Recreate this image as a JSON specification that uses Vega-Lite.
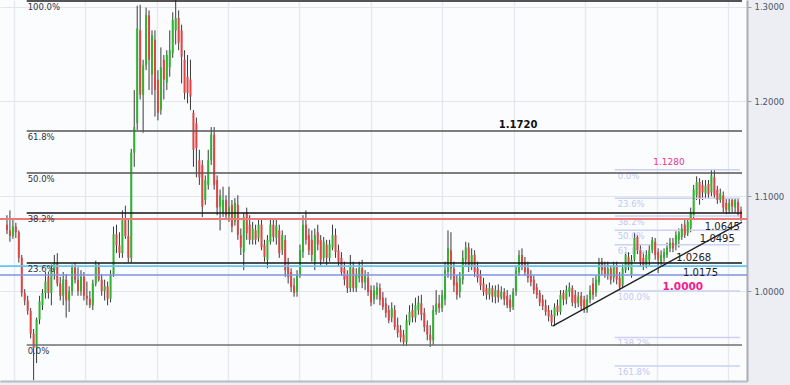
{
"$schema":"https://vega.github.io/schema/vega-lite/v6.json",
"width":747,"height":381,
"autosize":{"type":"none"},
"padding":{"left":0,"top":0,"right":43,"bottom":4},
"background":"#eceef4",
"view":{"fill":"#fbfcfe","stroke":null},
"config":{"font":"DejaVu Sans",
"axisX":{"title":null,"labels":false,"ticks":false,"domain":true,"domainColor":"#b8bac6","domainWidth":2,"grid":true,"gridColor":"#e7e9f0","gridWidth":1.5},
"axisY":{"title":null,"grid":true,"gridColor":"#e3e5ed","gridWidth":1,"domainColor":"#a9abb6","domainWidth":2,"tickColor":"#9a9caa","tickSize":4,"labelPadding":3,"labelFont":"DejaVu Sans","labelFontSize":8.5,"labelColor":"#4b5468"}},
"resolve":{"scale":{"color":"independent","strokeWidth":"independent"}},
"datasets":{
"candles":[
{"i":0,"o":1.070,"h":1.080,"l":1.060,"c":1.064},
{"i":1,"o":1.064,"h":1.085,"l":1.052,"c":1.058},
{"i":2,"o":1.058,"h":1.075,"l":1.055,"c":1.068},
{"i":3,"o":1.068,"h":1.072,"l":1.056,"c":1.062},
{"i":4,"o":1.062,"h":1.064,"l":1.030,"c":1.035},
{"i":5,"o":1.035,"h":1.038,"l":0.994,"c":0.998},
{"i":6,"o":0.998,"h":1.002,"l":0.985,"c":0.990},
{"i":7,"o":0.990,"h":0.995,"l":0.975,"c":0.979},
{"i":8,"o":0.979,"h":0.982,"l":0.950,"c":0.955},
{"i":9,"o":0.955,"h":0.960,"l":0.906,"c":0.940},
{"i":10,"o":0.940,"h":0.972,"l":0.924,"c":0.970},
{"i":11,"o":0.970,"h":0.995,"l":0.965,"c":0.989},
{"i":12,"o":0.985,"h":1.002,"l":0.980,"c":0.998},
{"i":13,"o":0.998,"h":1.020,"l":0.992,"c":1.010},
{"i":14,"o":1.015,"h":1.020,"l":0.992,"c":0.998},
{"i":15,"o":0.998,"h":1.028,"l":0.985,"c":1.022},
{"i":16,"o":1.022,"h":1.038,"l":1.012,"c":1.030},
{"i":17,"o":1.030,"h":1.040,"l":1.005,"c":1.008},
{"i":18,"o":1.008,"h":1.015,"l":0.990,"c":0.995},
{"i":19,"o":0.995,"h":1.020,"l":0.985,"c":1.012},
{"i":20,"o":1.012,"h":1.018,"l":0.972,"c":0.990},
{"i":21,"o":0.990,"h":1.005,"l":0.978,"c":1.000},
{"i":22,"o":1.000,"h":1.028,"l":0.995,"c":1.025},
{"i":23,"o":1.025,"h":1.030,"l":1.008,"c":1.012},
{"i":24,"o":1.012,"h":1.025,"l":0.995,"c":1.000},
{"i":25,"o":1.000,"h":1.022,"l":0.995,"c":1.015},
{"i":26,"o":1.015,"h":1.020,"l":0.990,"c":0.995},
{"i":27,"o":0.995,"h":1.010,"l":0.985,"c":0.992},
{"i":28,"o":0.992,"h":1.000,"l":0.982,"c":0.985},
{"i":29,"o":0.985,"h":1.012,"l":0.980,"c":1.008},
{"i":30,"o":1.008,"h":1.032,"l":1.005,"c":1.028},
{"i":31,"o":1.028,"h":1.030,"l":1.010,"c":1.012},
{"i":32,"o":1.012,"h":1.018,"l":0.995,"c":1.000},
{"i":33,"o":1.000,"h":1.012,"l":0.990,"c":1.005},
{"i":34,"o":1.005,"h":1.010,"l":0.985,"c":0.992},
{"i":35,"o":0.992,"h":1.022,"l":0.988,"c":1.018},
{"i":36,"o":1.018,"h":1.068,"l":1.015,"c":1.060},
{"i":37,"o":1.060,"h":1.070,"l":1.040,"c":1.048},
{"i":38,"o":1.048,"h":1.062,"l":1.035,"c":1.040},
{"i":39,"o":1.040,"h":1.085,"l":1.035,"c":1.075},
{"i":40,"o":1.075,"h":1.090,"l":1.055,"c":1.058},
{"i":41,"o":1.058,"h":1.075,"l":1.030,"c":1.035},
{"i":42,"o":1.035,"h":1.150,"l":1.030,"c":1.146},
{"i":43,"o":1.146,"h":1.212,"l":1.131,"c":1.173},
{"i":44,"o":1.177,"h":1.301,"l":1.170,"c":1.277},
{"i":45,"o":1.275,"h":1.302,"l":1.202,"c":1.207},
{"i":46,"o":1.207,"h":1.244,"l":1.167,"c":1.238},
{"i":47,"o":1.238,"h":1.299,"l":1.233,"c":1.291},
{"i":48,"o":1.291,"h":1.296,"l":1.212,"c":1.244},
{"i":49,"o":1.228,"h":1.275,"l":1.207,"c":1.270},
{"i":50,"o":1.265,"h":1.275,"l":1.184,"c":1.212},
{"i":51,"o":1.223,"h":1.233,"l":1.180,"c":1.188},
{"i":52,"o":1.191,"h":1.257,"l":1.186,"c":1.236},
{"i":53,"o":1.244,"h":1.249,"l":1.202,"c":1.223},
{"i":54,"o":1.220,"h":1.254,"l":1.212,"c":1.249},
{"i":55,"o":1.236,"h":1.275,"l":1.226,"c":1.254},
{"i":56,"o":1.251,"h":1.294,"l":1.246,"c":1.286},
{"i":57,"o":1.275,"h":1.307,"l":1.260,"c":1.288},
{"i":58,"o":1.288,"h":1.296,"l":1.254,"c":1.262},
{"i":59,"o":1.275,"h":1.281,"l":1.219,"c":1.247},
{"i":60,"o":1.244,"h":1.254,"l":1.202,"c":1.209},
{"i":61,"o":1.226,"h":1.249,"l":1.198,"c":1.209},
{"i":62,"o":1.223,"h":1.244,"l":1.191,"c":1.205},
{"i":63,"o":1.188,"h":1.191,"l":1.131,"c":1.149},
{"i":64,"o":1.177,"h":1.183,"l":1.120,"c":1.151},
{"i":65,"o":1.138,"h":1.149,"l":1.112,"c":1.120},
{"i":66,"o":1.133,"h":1.138,"l":1.078,"c":1.089},
{"i":67,"o":1.096,"h":1.122,"l":1.091,"c":1.117},
{"i":68,"o":1.112,"h":1.149,"l":1.107,"c":1.138},
{"i":69,"o":1.138,"h":1.173,"l":1.133,"c":1.165},
{"i":70,"o":1.165,"h":1.173,"l":1.107,"c":1.112},
{"i":71,"o":1.117,"h":1.122,"l":1.080,"c":1.088},
{"i":72,"o":1.089,"h":1.107,"l":1.064,"c":1.101},
{"i":73,"o":1.082,"h":1.110,"l":1.078,"c":1.096},
{"i":74,"o":1.096,"h":1.101,"l":1.075,"c":1.080},
{"i":75,"o":1.080,"h":1.110,"l":1.073,"c":1.089},
{"i":76,"o":1.091,"h":1.096,"l":1.062,"c":1.068},
{"i":77,"o":1.073,"h":1.098,"l":1.069,"c":1.093},
{"i":78,"o":1.091,"h":1.101,"l":1.054,"c":1.059},
{"i":79,"o":1.059,"h":1.066,"l":1.038,"c":1.046},
{"i":80,"o":1.041,"h":1.083,"l":1.022,"c":1.078},
{"i":81,"o":1.083,"h":1.088,"l":1.054,"c":1.061},
{"i":82,"o":1.070,"h":1.080,"l":1.049,"c":1.054},
{"i":83,"o":1.054,"h":1.073,"l":1.049,"c":1.066},
{"i":84,"o":1.064,"h":1.070,"l":1.049,"c":1.054},
{"i":85,"o":1.056,"h":1.075,"l":1.052,"c":1.070},
{"i":86,"o":1.070,"h":1.075,"l":1.043,"c":1.046},
{"i":87,"o":1.049,"h":1.054,"l":1.031,"c":1.036},
{"i":88,"o":1.033,"h":1.059,"l":1.024,"c":1.054},
{"i":89,"o":1.052,"h":1.075,"l":1.049,"c":1.070},
{"i":90,"o":1.070,"h":1.077,"l":1.052,"c":1.057},
{"i":91,"o":1.056,"h":1.077,"l":1.049,"c":1.069},
{"i":92,"o":1.064,"h":1.070,"l":1.035,"c":1.040},
{"i":93,"o":1.043,"h":1.064,"l":1.038,"c":1.059},
{"i":94,"o":1.054,"h":1.059,"l":1.015,"c":1.022},
{"i":95,"o":1.027,"h":1.035,"l":1.008,"c":1.015},
{"i":96,"o":1.020,"h":1.024,"l":0.999,"c":1.004},
{"i":97,"o":1.006,"h":1.014,"l":0.994,"c":0.998},
{"i":98,"o":0.999,"h":1.022,"l":0.994,"c":1.017},
{"i":99,"o":1.017,"h":1.049,"l":1.014,"c":1.043},
{"i":100,"o":1.041,"h":1.080,"l":1.035,"c":1.070},
{"i":101,"o":1.070,"h":1.085,"l":1.049,"c":1.054},
{"i":102,"o":1.059,"h":1.066,"l":1.038,"c":1.043},
{"i":103,"o":1.054,"h":1.064,"l":1.031,"c":1.038},
{"i":104,"o":1.031,"h":1.066,"l":1.022,"c":1.059},
{"i":105,"o":1.062,"h":1.070,"l":1.043,"c":1.049},
{"i":106,"o":1.054,"h":1.059,"l":1.027,"c":1.033},
{"i":107,"o":1.035,"h":1.057,"l":1.031,"c":1.052},
{"i":108,"o":1.049,"h":1.054,"l":1.027,"c":1.035},
{"i":109,"o":1.035,"h":1.054,"l":1.031,"c":1.049},
{"i":110,"o":1.046,"h":1.070,"l":1.043,"c":1.059},
{"i":111,"o":1.059,"h":1.066,"l":1.035,"c":1.041},
{"i":112,"o":1.043,"h":1.049,"l":1.026,"c":1.031},
{"i":113,"o":1.035,"h":1.041,"l":1.016,"c":1.020},
{"i":114,"o":1.024,"h":1.031,"l":1.006,"c":1.012},
{"i":115,"o":1.017,"h":1.022,"l":0.998,"c":1.003},
{"i":116,"o":1.003,"h":1.038,"l":0.999,"c":1.027},
{"i":117,"o":1.024,"h":1.031,"l":0.999,"c":1.003},
{"i":118,"o":1.003,"h":1.024,"l":0.999,"c":1.017},
{"i":119,"o":1.014,"h":1.031,"l":1.009,"c":1.024},
{"i":120,"o":1.024,"h":1.033,"l":1.003,"c":1.009},
{"i":121,"o":1.009,"h":1.022,"l":1.001,"c":1.017},
{"i":122,"o":1.014,"h":1.020,"l":0.995,"c":0.999},
{"i":123,"o":1.001,"h":1.006,"l":0.984,"c":0.988},
{"i":124,"o":0.991,"h":1.006,"l":0.986,"c":1.001},
{"i":125,"o":0.996,"h":1.009,"l":0.991,"c":1.004},
{"i":126,"o":1.003,"h":1.008,"l":0.985,"c":0.991},
{"i":127,"o":0.993,"h":0.999,"l":0.980,"c":0.983},
{"i":128,"o":0.987,"h":0.993,"l":0.972,"c":0.977},
{"i":129,"o":0.980,"h":0.985,"l":0.966,"c":0.969},
{"i":130,"o":0.972,"h":0.988,"l":0.967,"c":0.982},
{"i":131,"o":0.980,"h":0.985,"l":0.959,"c":0.962},
{"i":132,"o":0.964,"h":0.972,"l":0.951,"c":0.956},
{"i":133,"o":0.959,"h":0.964,"l":0.946,"c":0.951},
{"i":134,"o":0.954,"h":0.959,"l":0.942,"c":0.946},
{"i":135,"o":0.946,"h":0.975,"l":0.942,"c":0.969},
{"i":136,"o":0.967,"h":0.985,"l":0.964,"c":0.978},
{"i":137,"o":0.980,"h":0.987,"l":0.967,"c":0.972},
{"i":138,"o":0.972,"h":0.993,"l":0.967,"c":0.985},
{"i":139,"o":0.980,"h":0.995,"l":0.975,"c":0.988},
{"i":140,"o":0.987,"h":0.996,"l":0.969,"c":0.975},
{"i":141,"o":0.977,"h":0.982,"l":0.957,"c":0.962},
{"i":142,"o":0.964,"h":0.969,"l":0.948,"c":0.954},
{"i":143,"o":0.954,"h":0.964,"l":0.941,"c":0.948},
{"i":144,"o":0.948,"h":0.985,"l":0.943,"c":0.980},
{"i":145,"o":0.978,"h":1.001,"l":0.975,"c":0.987},
{"i":146,"o":0.987,"h":0.996,"l":0.977,"c":0.982},
{"i":147,"o":0.982,"h":1.001,"l":0.978,"c":0.996},
{"i":148,"o":0.991,"h":1.031,"l":0.985,"c":1.022},
{"i":149,"o":1.020,"h":1.064,"l":1.014,"c":1.045},
{"i":150,"o":1.043,"h":1.062,"l":1.012,"c":1.024},
{"i":151,"o":1.024,"h":1.031,"l":0.999,"c":1.006},
{"i":152,"o":1.009,"h":1.017,"l":0.991,"c":0.996},
{"i":153,"o":0.999,"h":1.020,"l":0.993,"c":1.014},
{"i":154,"o":1.012,"h":1.043,"l":1.007,"c":1.035},
{"i":155,"o":1.033,"h":1.052,"l":1.027,"c":1.046},
{"i":156,"o":1.046,"h":1.051,"l":1.020,"c":1.027},
{"i":157,"o":1.027,"h":1.045,"l":1.022,"c":1.038},
{"i":158,"o":1.038,"h":1.043,"l":1.015,"c":1.020},
{"i":159,"o":1.024,"h":1.031,"l":1.009,"c":1.014},
{"i":160,"o":1.017,"h":1.022,"l":1.001,"c":1.006},
{"i":161,"o":1.008,"h":1.014,"l":0.995,"c":0.999},
{"i":162,"o":1.003,"h":1.007,"l":0.991,"c":0.996},
{"i":163,"o":0.996,"h":1.009,"l":0.991,"c":1.003},
{"i":164,"o":1.003,"h":1.006,"l":0.988,"c":0.994},
{"i":165,"o":0.994,"h":1.006,"l":0.987,"c":1.001},
{"i":166,"o":1.001,"h":1.007,"l":0.988,"c":0.993},
{"i":167,"o":0.993,"h":1.005,"l":0.991,"c":0.999},
{"i":168,"o":0.999,"h":1.003,"l":0.985,"c":0.991},
{"i":169,"o":0.995,"h":1.001,"l":0.982,"c":0.985},
{"i":170,"o":0.991,"h":0.996,"l":0.978,"c":0.982},
{"i":171,"o":0.983,"h":1.003,"l":0.980,"c":0.999},
{"i":172,"o":0.999,"h":1.027,"l":0.995,"c":1.022},
{"i":173,"o":1.020,"h":1.043,"l":1.016,"c":1.038},
{"i":174,"o":1.038,"h":1.045,"l":1.022,"c":1.027},
{"i":175,"o":1.031,"h":1.036,"l":1.016,"c":1.020},
{"i":176,"o":1.024,"h":1.031,"l":1.009,"c":1.014},
{"i":177,"o":1.017,"h":1.022,"l":1.005,"c":1.009},
{"i":178,"o":1.012,"h":1.016,"l":0.997,"c":1.001},
{"i":179,"o":1.004,"h":1.008,"l":0.992,"c":0.996},
{"i":180,"o":0.998,"h":1.001,"l":0.984,"c":0.988},
{"i":181,"o":0.991,"h":0.996,"l":0.980,"c":0.984},
{"i":182,"o":0.985,"h":0.991,"l":0.974,"c":0.978},
{"i":183,"o":0.980,"h":0.985,"l":0.968,"c":0.973},
{"i":184,"o":0.975,"h":0.980,"l":0.963,"c":0.967},
{"i":185,"o":0.973,"h":0.987,"l":0.963,"c":0.983},
{"i":186,"o":0.985,"h":0.991,"l":0.974,"c":0.978},
{"i":187,"o":0.978,"h":1.001,"l":0.975,"c":0.996},
{"i":188,"o":0.998,"h":1.001,"l":0.985,"c":0.991},
{"i":189,"o":0.991,"h":1.006,"l":0.986,"c":1.001},
{"i":190,"o":0.999,"h":1.009,"l":0.994,"c":1.004},
{"i":191,"o":1.003,"h":1.006,"l":0.984,"c":0.988},
{"i":192,"o":0.996,"h":1.001,"l":0.982,"c":0.987},
{"i":193,"o":0.987,"h":0.999,"l":0.983,"c":0.994},
{"i":194,"o":0.995,"h":0.999,"l":0.980,"c":0.984},
{"i":195,"o":0.991,"h":0.995,"l":0.977,"c":0.980},
{"i":196,"o":0.980,"h":0.996,"l":0.977,"c":0.991},
{"i":197,"o":0.991,"h":1.006,"l":0.987,"c":1.001},
{"i":198,"o":1.008,"h":1.014,"l":0.991,"c":0.996},
{"i":199,"o":0.998,"h":1.016,"l":0.994,"c":1.012},
{"i":200,"o":1.009,"h":1.035,"l":1.006,"c":1.030},
{"i":201,"o":1.031,"h":1.035,"l":1.017,"c":1.022},
{"i":202,"o":1.025,"h":1.031,"l":1.014,"c":1.017},
{"i":203,"o":1.017,"h":1.031,"l":1.012,"c":1.024},
{"i":204,"o":1.024,"h":1.027,"l":1.007,"c":1.012},
{"i":205,"o":1.014,"h":1.031,"l":1.009,"c":1.027},
{"i":206,"o":1.027,"h":1.031,"l":1.007,"c":1.012},
{"i":207,"o":1.014,"h":1.020,"l":1.000,"c":1.004},
{"i":208,"o":1.006,"h":1.028,"l":1.003,"c":1.024},
{"i":209,"o":1.022,"h":1.041,"l":1.019,"c":1.038},
{"i":210,"o":1.036,"h":1.041,"l":1.022,"c":1.027},
{"i":211,"o":1.017,"h":1.038,"l":1.014,"c":1.033},
{"i":212,"o":1.033,"h":1.061,"l":1.031,"c":1.056},
{"i":213,"o":1.057,"h":1.059,"l":1.039,"c":1.043},
{"i":214,"o":1.043,"h":1.049,"l":1.026,"c":1.031},
{"i":215,"o":1.035,"h":1.041,"l":1.022,"c":1.027},
{"i":216,"o":1.027,"h":1.043,"l":1.024,"c":1.038},
{"i":217,"o":1.033,"h":1.049,"l":1.027,"c":1.043},
{"i":218,"o":1.043,"h":1.057,"l":1.040,"c":1.054},
{"i":219,"o":1.052,"h":1.056,"l":1.033,"c":1.038},
{"i":220,"o":1.041,"h":1.045,"l":1.019,"c":1.033},
{"i":221,"o":1.031,"h":1.043,"l":1.027,"c":1.038},
{"i":222,"o":1.035,"h":1.045,"l":1.031,"c":1.041},
{"i":223,"o":1.038,"h":1.051,"l":1.035,"c":1.046},
{"i":224,"o":1.045,"h":1.056,"l":1.041,"c":1.051},
{"i":225,"o":1.051,"h":1.056,"l":1.041,"c":1.045},
{"i":226,"o":1.048,"h":1.063,"l":1.043,"c":1.059},
{"i":227,"o":1.054,"h":1.066,"l":1.046,"c":1.062},
{"i":228,"o":1.057,"h":1.071,"l":1.054,"c":1.066},
{"i":229,"o":1.070,"h":1.075,"l":1.056,"c":1.059},
{"i":230,"o":1.061,"h":1.077,"l":1.058,"c":1.073},
{"i":231,"o":1.066,"h":1.088,"l":1.062,"c":1.083},
{"i":232,"o":1.080,"h":1.112,"l":1.077,"c":1.107},
{"i":233,"o":1.101,"h":1.121,"l":1.096,"c":1.115},
{"i":234,"o":1.115,"h":1.119,"l":1.091,"c":1.098},
{"i":235,"o":1.112,"h":1.117,"l":1.096,"c":1.104},
{"i":236,"o":1.103,"h":1.117,"l":1.098,"c":1.111},
{"i":237,"o":1.113,"h":1.117,"l":1.098,"c":1.102},
{"i":238,"o":1.104,"h":1.128,"l":1.100,"c":1.122},
{"i":239,"o":1.120,"h":1.128,"l":1.098,"c":1.101},
{"i":240,"o":1.107,"h":1.111,"l":1.092,"c":1.096},
{"i":241,"o":1.096,"h":1.108,"l":1.093,"c":1.103},
{"i":242,"o":1.101,"h":1.105,"l":1.083,"c":1.088},
{"i":243,"o":1.093,"h":1.097,"l":1.081,"c":1.085},
{"i":244,"o":1.085,"h":1.097,"l":1.082,"c":1.093},
{"i":245,"o":1.096,"h":1.098,"l":1.083,"c":1.089},
{"i":246,"o":1.088,"h":1.098,"l":1.083,"c":1.096},
{"i":247,"o":1.094,"h":1.097,"l":1.079,"c":1.083},
{"i":248,"o":1.085,"h":1.089,"l":1.074,"c":1.077}
],
"fibL":[
{"pct":"100.0%","v":1.306},
{"pct":"61.8%","v":1.1688},
{"pct":"50.0%","v":1.1245},
{"pct":"38.2%","v":1.0823},
{"pct":"23.6%","v":1.0295},
{"pct":"0.0%","v":0.943}
],
"fibR":[
{"pct":"0.0%","v":1.128},
{"pct":"23.6%","v":1.0978},
{"pct":"38.2%","v":1.0791},
{"pct":"50.0%","v":1.064},
{"pct":"61.8%","v":1.0489},
{"pct":"100.0%","v":1.0},
{"pct":"138.2%","v":0.9511},
{"pct":"161.8%","v":0.9209}
],
"hlines":[
{"name":"cyan","v":1.0264},
{"name":"blue","v":1.0169},
{"name":"red","v":1.0759}
],
"trend":[
{"i":184.33,"v":0.963},
{"i":248.33,"v":1.0728}
],
"notes":[
{"t":"1.1720","i":172.67,"v":1.1751,"k":"boldBlack"},
{"t":"1.1280","i":223.67,"v":1.136,"k":"pink"},
{"t":"1.0645","i":241.67,"v":1.0675,"k":"dark"},
{"t":"1.0495","i":240,"v":1.0549,"k":"dark"},
{"t":"1.0268","i":232,"v":1.0348,"k":"dark"},
{"t":"1.0175","i":234.33,"v":1.019,"k":"dark"},
{"t":"1.0000","i":228.33,"v":1.0042,"k":"boldMag"}
]
},
"layer":[
{
"data":{"name":"candles"},
"mark":{"type":"rule","color":"#3a3a3a","strokeWidth":1},
"encoding":{
"x":{"field":"i","type":"quantitative","scale":{"domain":[-0.667,248.333],"nice":false,"zero":false},
 "axis":{"orient":"bottom","values":[2.3,8.33,14.37,20.4,26.43,32.47,38.5,44.53,50.57,56.6,62.63,68.67,74.7,80.73,86.77,92.8,98.83,104.87,110.9,116.93,122.97,129,135.03,141.07,147.1,153.13,159.17,165.2,171.23,177.27,183.3,189.33,195.37,201.4,207.43,213.47,219.5,225.53,231.57,237.6,243.63]}},
"y":{"field":"l","type":"quantitative","scale":{"domain":[0.9051,1.307],"nice":false,"zero":false},
 "axis":{"orient":"right","values":[1.0,1.1,1.2,1.3],"format":".4f"}},
"y2":{"field":"h"}
}
},
{
"data":{"name":"fibR"},
"mark":{"type":"rule","color":"#cdd0f2","strokeWidth":1.5},
"encoding":{
"x":{"datum":205.33,"type":"quantitative"},
"x2":{"datum":247.67},
"y":{"field":"v","type":"quantitative"}
}
},
{
"data":{"name":"fibR"},
"mark":{"type":"text","align":"left","baseline":"top","dy":2,"fontSize":8.5,"color":"#c4c8f0","font":"DejaVu Sans"},
"encoding":{
"x":{"datum":206.33,"type":"quantitative"},
"y":{"field":"v","type":"quantitative"},
"text":{"field":"pct"}
}
},
{
"data":{"name":"candles"},
"mark":{"type":"bar","size":2},
"encoding":{
"x":{"field":"i","type":"quantitative"},
"y":{"field":"o","type":"quantitative"},
"y2":{"field":"c"},
"color":{"condition":{"test":"datum.c >= datum.o","value":"#2eb52e"},"value":"#e04545"}
}
},
{
"data":{"name":"hlines"},
"mark":{"type":"rule"},
"encoding":{
"y":{"field":"v","type":"quantitative"},
"color":{"field":"name","type":"nominal","scale":{"domain":["red","cyan","blue"],"range":["#f07878","#62c6f4","#7f95e2"]},"legend":null},
"strokeWidth":{"field":"name","type":"nominal","scale":{"domain":["red","cyan","blue"],"range":[2,1.5,1.5]},"legend":null}
}
},
{
"data":{"name":"fibL"},
"mark":{"type":"rule","strokeWidth":1.5},
"encoding":{
"x":{"datum":6.67,"type":"quantitative"},
"x2":{"datum":248.33},
"y":{"field":"v","type":"quantitative"},
"color":{"field":"pct","type":"nominal","scale":{"domain":["100.0%","61.8%","50.0%","38.2%","23.6%","0.0%"],"range":["#1c1c1c","#555555","#555555","#161616","#161616","#707070"]},"legend":null}
}
},
{
"data":{"name":"fibL"},
"mark":{"type":"text","align":"left","baseline":"top","dy":2,"fontSize":8.5,"color":"#2e3442","font":"DejaVu Sans"},
"encoding":{
"x":{"datum":7,"type":"quantitative"},
"y":{"field":"v","type":"quantitative"},
"text":{"field":"pct"}
}
},
{
"data":{"name":"trend"},
"mark":{"type":"line","color":"#222222","strokeWidth":1.4},
"encoding":{
"x":{"field":"i","type":"quantitative"},
"y":{"field":"v","type":"quantitative"}
}
},
{
"data":{"name":"notes"},
"transform":[{"filter":"datum.k == 'dark'"}],
"mark":{"type":"text","align":"center","baseline":"middle","fontSize":10,"color":"#222222","font":"DejaVu Sans"},
"encoding":{
"x":{"field":"i","type":"quantitative"},
"y":{"field":"v","type":"quantitative"},
"text":{"field":"t"}
}
},
{
"data":{"name":"notes"},
"transform":[{"filter":"datum.k == 'pink'"}],
"mark":{"type":"text","align":"center","baseline":"middle","fontSize":9,"color":"#e8388c","font":"DejaVu Sans"},
"encoding":{
"x":{"field":"i","type":"quantitative"},
"y":{"field":"v","type":"quantitative"},
"text":{"field":"t"}
}
},
{
"data":{"name":"notes"},
"transform":[{"filter":"datum.k == 'boldBlack'"}],
"mark":{"type":"text","align":"center","baseline":"middle","fontSize":10,"fontWeight":"bold","color":"#111111","font":"DejaVu Sans"},
"encoding":{
"x":{"field":"i","type":"quantitative"},
"y":{"field":"v","type":"quantitative"},
"text":{"field":"t"}
}
},
{
"data":{"name":"notes"},
"transform":[{"filter":"datum.k == 'boldMag'"}],
"mark":{"type":"text","align":"center","baseline":"middle","fontSize":10.5,"fontWeight":"bold","color":"#f0208c","font":"DejaVu Sans"},
"encoding":{
"x":{"field":"i","type":"quantitative"},
"y":{"field":"v","type":"quantitative"},
"text":{"field":"t"}
}
}
]
}
